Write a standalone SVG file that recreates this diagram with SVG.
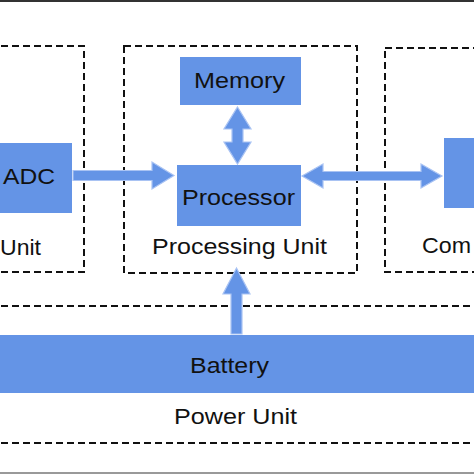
<svg xmlns="http://www.w3.org/2000/svg" width="474" height="474" viewBox="0 0 474 474">
<style>
.unit{fill:none;stroke:#111;stroke-width:2;stroke-dasharray:7 4}
.blk{fill:#6494e6}
.arr{fill:#6494e6;stroke:#a9c3f3;stroke-width:1.2;stroke-linejoin:miter}
.t{font-family:"Liberation Sans",Arial,sans-serif;font-size:22px;fill:#111}
</style>
<rect x="0" y="0" width="474" height="474" fill="#fff"/>
<rect x="0" y="0" width="474" height="2" fill="#333"/>
<rect x="0" y="472" width="474" height="2" fill="#999"/>

<g id="sensing-unit">
<rect class="unit" x="-10" y="46" width="94" height="226"/>
<text class="t" x="0" y="255" textLength="41" lengthAdjust="spacingAndGlyphs">Unit</text>
</g>
<g id="adc">
<rect class="blk" x="-5" y="143" width="77" height="70"/>
<text class="t" x="3" y="184" textLength="52" lengthAdjust="spacingAndGlyphs">ADC</text>
</g>

<g id="processing-unit">
<rect class="unit" x="124" y="46" width="233" height="227"/>
<text class="t" x="152" y="254" textLength="175" lengthAdjust="spacingAndGlyphs">Processing Unit</text>
</g>
<g id="memory">
<rect class="blk" x="180" y="57" width="121" height="48"/>
<text class="t" x="194" y="88" textLength="91" lengthAdjust="spacingAndGlyphs">Memory</text>
</g>
<g id="processor">
<rect class="blk" x="177" y="165" width="124" height="61"/>
<text class="t" x="182" y="205" textLength="113" lengthAdjust="spacingAndGlyphs">Processor</text>
</g>

<g id="communication-unit">
<rect class="unit" x="385" y="48" width="100" height="224"/>
<text class="t" x="422" y="253" textLength="49" lengthAdjust="spacingAndGlyphs">Com</text>
</g>
<g id="communication">
<rect class="blk" x="444" y="138" width="40" height="70"/>
</g>

<g id="power-unit">
<line class="unit" x1="-10" y1="306" x2="484" y2="306"/>
<line class="unit" x1="-10" y1="443" x2="484" y2="443"/>
<text class="t" x="174" y="424" textLength="123" lengthAdjust="spacingAndGlyphs">Power Unit</text>
</g>
<g id="battery">
<rect class="blk" x="-5" y="335" width="484" height="58"/>
<text class="t" x="190" y="373" textLength="79" lengthAdjust="spacingAndGlyphs">Battery</text>
</g>

<g id="connectors">
<polygon class="arr" points="73,170.5 152,170.5 152,162 174,175.5 152,189 152,180.5 73,180.5"/>
<polygon class="arr" points="237.5,107 251,129 243,129 243,142 251,142 237.5,164 224,142 232,142 232,129 224,129"/>
<polygon class="arr" points="302,176 323,164 323,171.5 421,171.5 421,164 442,176 421,188 421,180.5 323,180.5 323,188"/>
<polygon class="arr" points="236.5,268 250,294 242,294 242,334 231,334 231,294 223,294"/>
</g>
</svg>
